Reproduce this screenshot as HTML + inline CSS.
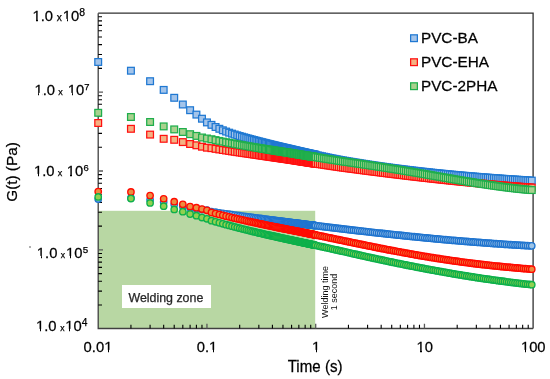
<!DOCTYPE html>
<html><head><meta charset="utf-8"><style>
html,body{margin:0;padding:0;background:#fff;width:550px;height:379px;overflow:hidden;}
body{position:relative;font-family:"Liberation Sans",sans-serif;color:#000;}
.t{position:absolute;white-space:nowrap;line-height:1;}
#tx{position:absolute;left:0;top:0;width:550px;height:379px;will-change:transform;}
.t{-webkit-text-stroke:0.25px currentColor;} .o{position:relative;} .o::before,.o::after{content:"";position:absolute;top:0.76em;height:0.19em;background:#fff;} .o::before{left:0.045em;width:0.207em;} .o::after{left:0.343em;width:0.2em;}

</style></head><body>
<svg width="550" height="379" viewBox="0 0 550 379" style="position:absolute;left:0;top:0"><rect x="98.2" y="210.8" width="217.0" height="117.69999999999999" fill="#b8d7a3"/><path d="M98.2 13.2H533.1V328.5" fill="none" stroke="#303030" stroke-width="1.3"/><path d="M98.2 13.2V328.5H533.1" fill="none" stroke="#404040" stroke-width="1.3"/><path d="M98.2 305.05h3.8M98.2 291.16h3.8M98.2 281.30h3.8M98.2 273.65h3.8M98.2 267.40h3.8M98.2 262.12h3.8M98.2 257.55h3.8M98.2 253.51h3.8M98.2 226.15h3.8M98.2 212.26h3.8M98.2 202.40h3.8M98.2 194.75h3.8M98.2 188.50h3.8M98.2 183.22h3.8M98.2 178.65h3.8M98.2 174.61h3.8M98.2 147.25h3.8M98.2 133.36h3.8M98.2 123.50h3.8M98.2 115.85h3.8M98.2 109.60h3.8M98.2 104.32h3.8M98.2 99.75h3.8M98.2 95.71h3.8M98.2 68.35h3.8M98.2 54.46h3.8M98.2 44.60h3.8M98.2 36.95h3.8M98.2 30.70h3.8M98.2 25.42h3.8M98.2 20.85h3.8M98.2 16.81h3.8M130.94 328.5v-3.8M150.09 328.5v-3.8M163.67 328.5v-3.8M174.21 328.5v-3.8M182.82 328.5v-3.8M190.10 328.5v-3.8M196.41 328.5v-3.8M201.97 328.5v-3.8M239.69 328.5v-3.8M258.84 328.5v-3.8M272.42 328.5v-3.8M282.96 328.5v-3.8M291.57 328.5v-3.8M298.85 328.5v-3.8M305.16 328.5v-3.8M310.72 328.5v-3.8M348.44 328.5v-3.8M367.59 328.5v-3.8M381.17 328.5v-3.8M391.71 328.5v-3.8M400.32 328.5v-3.8M407.60 328.5v-3.8M413.91 328.5v-3.8M419.47 328.5v-3.8M457.19 328.5v-3.8M476.34 328.5v-3.8M489.92 328.5v-3.8M500.46 328.5v-3.8M509.07 328.5v-3.8M516.35 328.5v-3.8M522.66 328.5v-3.8M528.22 328.5v-3.8" stroke="#000" stroke-width="1.1" fill="none"/><path d="M98.2 249.90h4.8M98.2 171.00h4.8M98.2 92.10h4.8M206.95 328.5v-4.8M315.70 328.5v-4.8M424.45 328.5v-4.8" stroke="#595959" stroke-width="1.3" fill="none"/><g fill="#a3c4ea" stroke="#1f78d2" stroke-width="1.25"><rect x="94.83" y="58.62" width="6.75" height="6.75"/><rect x="127.56" y="67.33" width="6.75" height="6.75"/><rect x="146.71" y="77.83" width="6.75" height="6.75"/><rect x="160.30" y="86.53" width="6.75" height="6.75"/><rect x="170.84" y="94.42" width="6.75" height="6.75"/><rect x="179.45" y="101.12" width="6.75" height="6.75"/><rect x="186.73" y="106.83" width="6.75" height="6.75"/><rect x="193.04" y="111.22" width="6.75" height="6.75"/><rect x="198.60" y="115.33" width="6.75" height="6.75"/><rect x="203.57" y="119.03" width="6.75" height="6.75"/><rect x="208.08" y="121.48" width="6.75" height="6.75"/><rect x="212.19" y="123.62" width="6.75" height="6.75"/><rect x="215.97" y="125.40" width="6.75" height="6.75"/><rect x="219.47" y="126.90" width="6.75" height="6.75"/><rect x="222.72" y="128.18" width="6.75" height="6.75"/><rect x="225.77" y="129.29" width="6.75" height="6.75"/><rect x="228.64" y="130.27" width="6.75" height="6.75"/><rect x="231.34" y="131.15" width="6.75" height="6.75"/><rect x="233.89" y="131.94" width="6.75" height="6.75"/><rect x="236.31" y="132.67" width="6.75" height="6.75"/><rect x="238.62" y="133.34" width="6.75" height="6.75"/><rect x="240.81" y="133.97" width="6.75" height="6.75"/><rect x="242.91" y="134.56" width="6.75" height="6.75"/><rect x="244.92" y="135.12" width="6.75" height="6.75"/><rect x="246.85" y="135.66" width="6.75" height="6.75"/><rect x="248.70" y="136.17" width="6.75" height="6.75"/><rect x="250.49" y="136.65" width="6.75" height="6.75"/><rect x="252.20" y="137.12" width="6.75" height="6.75"/><rect x="253.86" y="137.56" width="6.75" height="6.75"/><rect x="255.46" y="137.99" width="6.75" height="6.75"/><rect x="257.01" y="138.40" width="6.75" height="6.75"/><rect x="258.51" y="138.79" width="6.75" height="6.75"/><rect x="259.96" y="139.17" width="6.75" height="6.75"/><rect x="261.37" y="139.53" width="6.75" height="6.75"/><rect x="262.74" y="139.89" width="6.75" height="6.75"/><rect x="264.07" y="140.23" width="6.75" height="6.75"/><rect x="265.37" y="140.55" width="6.75" height="6.75"/><rect x="266.63" y="140.87" width="6.75" height="6.75"/><rect x="267.85" y="141.18" width="6.75" height="6.75"/><rect x="269.05" y="141.48" width="6.75" height="6.75"/><rect x="270.22" y="141.77" width="6.75" height="6.75"/><rect x="271.35" y="142.05" width="6.75" height="6.75"/><rect x="272.46" y="142.32" width="6.75" height="6.75"/><rect x="273.55" y="142.59" width="6.75" height="6.75"/><rect x="274.61" y="142.85" width="6.75" height="6.75"/><rect x="275.65" y="143.10" width="6.75" height="6.75"/><rect x="276.67" y="143.34" width="6.75" height="6.75"/><rect x="277.66" y="143.58" width="6.75" height="6.75"/><rect x="278.63" y="143.81" width="6.75" height="6.75"/><rect x="279.59" y="144.04" width="6.75" height="6.75"/><rect x="280.52" y="144.26" width="6.75" height="6.75"/><rect x="281.44" y="144.48" width="6.75" height="6.75"/><rect x="282.34" y="144.69" width="6.75" height="6.75"/><rect x="283.22" y="144.89" width="6.75" height="6.75"/><rect x="284.09" y="145.09" width="6.75" height="6.75"/><rect x="284.94" y="145.29" width="6.75" height="6.75"/><rect x="285.78" y="145.48" width="6.75" height="6.75"/><rect x="286.60" y="145.67" width="6.75" height="6.75"/><rect x="287.41" y="145.87" width="6.75" height="6.75"/><rect x="288.20" y="146.06" width="6.75" height="6.75"/><rect x="288.98" y="146.25" width="6.75" height="6.75"/><rect x="289.75" y="146.43" width="6.75" height="6.75"/><rect x="290.50" y="146.61" width="6.75" height="6.75"/><rect x="291.25" y="146.79" width="6.75" height="6.75"/><rect x="291.98" y="146.96" width="6.75" height="6.75"/><rect x="292.70" y="147.13" width="6.75" height="6.75"/><rect x="293.41" y="147.30" width="6.75" height="6.75"/><rect x="294.11" y="147.46" width="6.75" height="6.75"/><rect x="294.80" y="147.63" width="6.75" height="6.75"/><rect x="295.48" y="147.78" width="6.75" height="6.75"/><rect x="296.15" y="147.94" width="6.75" height="6.75"/><rect x="296.81" y="148.09" width="6.75" height="6.75"/><rect x="297.46" y="148.24" width="6.75" height="6.75"/><rect x="298.10" y="148.39" width="6.75" height="6.75"/><rect x="298.74" y="148.54" width="6.75" height="6.75"/><rect x="299.36" y="148.68" width="6.75" height="6.75"/><rect x="299.98" y="148.82" width="6.75" height="6.75"/><rect x="300.59" y="148.96" width="6.75" height="6.75"/><rect x="301.19" y="149.10" width="6.75" height="6.75"/><rect x="301.79" y="149.23" width="6.75" height="6.75"/><rect x="302.37" y="149.37" width="6.75" height="6.75"/><rect x="302.95" y="149.50" width="6.75" height="6.75"/><rect x="303.52" y="149.62" width="6.75" height="6.75"/><rect x="304.09" y="149.75" width="6.75" height="6.75"/><rect x="304.65" y="149.88" width="6.75" height="6.75"/><rect x="305.20" y="150.00" width="6.75" height="6.75"/><rect x="305.75" y="150.12" width="6.75" height="6.75"/><rect x="306.29" y="150.24" width="6.75" height="6.75"/><rect x="306.82" y="150.36" width="6.75" height="6.75"/><rect x="307.35" y="150.48" width="6.75" height="6.75"/><rect x="307.87" y="150.59" width="6.75" height="6.75"/><rect x="308.39" y="150.70" width="6.75" height="6.75"/><rect x="308.90" y="150.82" width="6.75" height="6.75"/><rect x="309.40" y="150.93" width="6.75" height="6.75"/><rect x="309.90" y="151.04" width="6.75" height="6.75"/><rect x="310.40" y="151.14" width="6.75" height="6.75"/><rect x="310.89" y="151.25" width="6.75" height="6.75"/><rect x="311.37" y="151.35" width="6.75" height="6.75"/><rect x="311.85" y="151.46" width="6.75" height="6.75"/><rect x="312.32" y="151.56" width="6.75" height="6.75"/><rect x="314.42" y="152.01" width="6.75" height="6.75"/><rect x="316.52" y="152.45" width="6.75" height="6.75"/><rect x="318.62" y="152.89" width="6.75" height="6.75"/><rect x="320.72" y="153.33" width="6.75" height="6.75"/><rect x="322.81" y="153.76" width="6.75" height="6.75"/><rect x="324.91" y="154.19" width="6.75" height="6.75"/><rect x="327.01" y="154.61" width="6.75" height="6.75"/><rect x="329.11" y="155.03" width="6.75" height="6.75"/><rect x="331.20" y="155.45" width="6.75" height="6.75"/><rect x="333.30" y="155.86" width="6.75" height="6.75"/><rect x="335.40" y="156.26" width="6.75" height="6.75"/><rect x="337.50" y="156.65" width="6.75" height="6.75"/><rect x="339.59" y="157.02" width="6.75" height="6.75"/><rect x="341.69" y="157.38" width="6.75" height="6.75"/><rect x="343.79" y="157.74" width="6.75" height="6.75"/><rect x="345.89" y="158.10" width="6.75" height="6.75"/><rect x="347.99" y="158.45" width="6.75" height="6.75"/><rect x="350.08" y="158.80" width="6.75" height="6.75"/><rect x="352.18" y="159.14" width="6.75" height="6.75"/><rect x="354.28" y="159.48" width="6.75" height="6.75"/><rect x="356.38" y="159.82" width="6.75" height="6.75"/><rect x="358.47" y="160.15" width="6.75" height="6.75"/><rect x="360.57" y="160.48" width="6.75" height="6.75"/><rect x="362.67" y="160.81" width="6.75" height="6.75"/><rect x="364.77" y="161.13" width="6.75" height="6.75"/><rect x="366.86" y="161.45" width="6.75" height="6.75"/><rect x="368.96" y="161.76" width="6.75" height="6.75"/><rect x="371.06" y="162.07" width="6.75" height="6.75"/><rect x="373.16" y="162.38" width="6.75" height="6.75"/><rect x="375.26" y="162.68" width="6.75" height="6.75"/><rect x="377.35" y="162.98" width="6.75" height="6.75"/><rect x="379.45" y="163.27" width="6.75" height="6.75"/><rect x="381.55" y="163.57" width="6.75" height="6.75"/><rect x="383.65" y="163.86" width="6.75" height="6.75"/><rect x="385.74" y="164.14" width="6.75" height="6.75"/><rect x="387.84" y="164.42" width="6.75" height="6.75"/><rect x="389.94" y="164.70" width="6.75" height="6.75"/><rect x="392.04" y="164.98" width="6.75" height="6.75"/><rect x="394.13" y="165.25" width="6.75" height="6.75"/><rect x="396.23" y="165.52" width="6.75" height="6.75"/><rect x="398.33" y="165.78" width="6.75" height="6.75"/><rect x="400.43" y="166.05" width="6.75" height="6.75"/><rect x="402.53" y="166.30" width="6.75" height="6.75"/><rect x="404.62" y="166.56" width="6.75" height="6.75"/><rect x="406.72" y="166.81" width="6.75" height="6.75"/><rect x="408.82" y="167.06" width="6.75" height="6.75"/><rect x="410.92" y="167.31" width="6.75" height="6.75"/><rect x="413.01" y="167.55" width="6.75" height="6.75"/><rect x="415.11" y="167.79" width="6.75" height="6.75"/><rect x="417.21" y="168.03" width="6.75" height="6.75"/><rect x="419.31" y="168.27" width="6.75" height="6.75"/><rect x="421.40" y="168.50" width="6.75" height="6.75"/><rect x="423.50" y="168.73" width="6.75" height="6.75"/><rect x="425.60" y="168.95" width="6.75" height="6.75"/><rect x="427.70" y="169.18" width="6.75" height="6.75"/><rect x="429.80" y="169.40" width="6.75" height="6.75"/><rect x="431.89" y="169.62" width="6.75" height="6.75"/><rect x="433.99" y="169.83" width="6.75" height="6.75"/><rect x="436.09" y="170.04" width="6.75" height="6.75"/><rect x="438.19" y="170.25" width="6.75" height="6.75"/><rect x="440.28" y="170.46" width="6.75" height="6.75"/><rect x="442.38" y="170.67" width="6.75" height="6.75"/><rect x="444.48" y="170.87" width="6.75" height="6.75"/><rect x="446.58" y="171.07" width="6.75" height="6.75"/><rect x="448.67" y="171.27" width="6.75" height="6.75"/><rect x="450.77" y="171.46" width="6.75" height="6.75"/><rect x="452.87" y="171.65" width="6.75" height="6.75"/><rect x="454.97" y="171.84" width="6.75" height="6.75"/><rect x="457.07" y="172.03" width="6.75" height="6.75"/><rect x="459.16" y="172.22" width="6.75" height="6.75"/><rect x="461.26" y="172.40" width="6.75" height="6.75"/><rect x="463.36" y="172.58" width="6.75" height="6.75"/><rect x="465.46" y="172.76" width="6.75" height="6.75"/><rect x="467.55" y="172.94" width="6.75" height="6.75"/><rect x="469.65" y="173.11" width="6.75" height="6.75"/><rect x="471.75" y="173.28" width="6.75" height="6.75"/><rect x="473.85" y="173.45" width="6.75" height="6.75"/><rect x="475.94" y="173.62" width="6.75" height="6.75"/><rect x="478.04" y="173.79" width="6.75" height="6.75"/><rect x="480.14" y="173.95" width="6.75" height="6.75"/><rect x="482.24" y="174.11" width="6.75" height="6.75"/><rect x="484.34" y="174.27" width="6.75" height="6.75"/><rect x="486.43" y="174.43" width="6.75" height="6.75"/><rect x="488.53" y="174.59" width="6.75" height="6.75"/><rect x="490.63" y="174.74" width="6.75" height="6.75"/><rect x="492.73" y="174.90" width="6.75" height="6.75"/><rect x="494.82" y="175.05" width="6.75" height="6.75"/><rect x="496.92" y="175.20" width="6.75" height="6.75"/><rect x="499.02" y="175.34" width="6.75" height="6.75"/><rect x="501.12" y="175.49" width="6.75" height="6.75"/><rect x="503.21" y="175.63" width="6.75" height="6.75"/><rect x="505.31" y="175.78" width="6.75" height="6.75"/><rect x="507.41" y="175.92" width="6.75" height="6.75"/><rect x="509.51" y="176.06" width="6.75" height="6.75"/><rect x="511.60" y="176.19" width="6.75" height="6.75"/><rect x="513.70" y="176.33" width="6.75" height="6.75"/><rect x="515.80" y="176.47" width="6.75" height="6.75"/><rect x="517.90" y="176.60" width="6.75" height="6.75"/><rect x="520.00" y="176.73" width="6.75" height="6.75"/><rect x="522.09" y="176.86" width="6.75" height="6.75"/><rect x="524.19" y="176.99" width="6.75" height="6.75"/><rect x="526.29" y="177.12" width="6.75" height="6.75"/><rect x="528.39" y="177.25" width="6.75" height="6.75"/></g><g fill="#f4b183" stroke="#ff1010" stroke-width="1.25"><rect x="94.83" y="119.62" width="6.75" height="6.75"/><rect x="127.56" y="125.43" width="6.75" height="6.75"/><rect x="146.71" y="131.22" width="6.75" height="6.75"/><rect x="160.30" y="135.43" width="6.75" height="6.75"/><rect x="170.84" y="136.43" width="6.75" height="6.75"/><rect x="179.45" y="138.72" width="6.75" height="6.75"/><rect x="186.73" y="140.62" width="6.75" height="6.75"/><rect x="193.04" y="141.93" width="6.75" height="6.75"/><rect x="198.60" y="143.32" width="6.75" height="6.75"/><rect x="203.57" y="144.32" width="6.75" height="6.75"/><rect x="208.08" y="144.78" width="6.75" height="6.75"/><rect x="212.19" y="145.47" width="6.75" height="6.75"/><rect x="215.97" y="146.08" width="6.75" height="6.75"/><rect x="219.47" y="146.63" width="6.75" height="6.75"/><rect x="222.72" y="147.13" width="6.75" height="6.75"/><rect x="225.77" y="147.58" width="6.75" height="6.75"/><rect x="228.64" y="148.01" width="6.75" height="6.75"/><rect x="231.34" y="148.40" width="6.75" height="6.75"/><rect x="233.89" y="148.77" width="6.75" height="6.75"/><rect x="236.31" y="149.11" width="6.75" height="6.75"/><rect x="238.62" y="149.44" width="6.75" height="6.75"/><rect x="240.81" y="149.76" width="6.75" height="6.75"/><rect x="242.91" y="150.05" width="6.75" height="6.75"/><rect x="244.92" y="150.34" width="6.75" height="6.75"/><rect x="246.85" y="150.61" width="6.75" height="6.75"/><rect x="248.70" y="150.88" width="6.75" height="6.75"/><rect x="250.49" y="151.13" width="6.75" height="6.75"/><rect x="252.20" y="151.37" width="6.75" height="6.75"/><rect x="253.86" y="151.61" width="6.75" height="6.75"/><rect x="255.46" y="151.84" width="6.75" height="6.75"/><rect x="257.01" y="152.06" width="6.75" height="6.75"/><rect x="258.51" y="152.27" width="6.75" height="6.75"/><rect x="259.96" y="152.48" width="6.75" height="6.75"/><rect x="261.37" y="152.68" width="6.75" height="6.75"/><rect x="262.74" y="152.87" width="6.75" height="6.75"/><rect x="264.07" y="153.06" width="6.75" height="6.75"/><rect x="265.37" y="153.24" width="6.75" height="6.75"/><rect x="266.63" y="153.42" width="6.75" height="6.75"/><rect x="267.85" y="153.60" width="6.75" height="6.75"/><rect x="269.05" y="153.77" width="6.75" height="6.75"/><rect x="270.22" y="153.93" width="6.75" height="6.75"/><rect x="271.35" y="154.09" width="6.75" height="6.75"/><rect x="272.46" y="154.25" width="6.75" height="6.75"/><rect x="273.55" y="154.40" width="6.75" height="6.75"/><rect x="274.61" y="154.55" width="6.75" height="6.75"/><rect x="275.65" y="154.70" width="6.75" height="6.75"/><rect x="276.67" y="154.84" width="6.75" height="6.75"/><rect x="277.66" y="154.98" width="6.75" height="6.75"/><rect x="278.63" y="155.12" width="6.75" height="6.75"/><rect x="279.59" y="155.26" width="6.75" height="6.75"/><rect x="280.52" y="155.39" width="6.75" height="6.75"/><rect x="281.44" y="155.52" width="6.75" height="6.75"/><rect x="282.34" y="155.64" width="6.75" height="6.75"/><rect x="283.22" y="155.77" width="6.75" height="6.75"/><rect x="284.09" y="155.89" width="6.75" height="6.75"/><rect x="284.94" y="156.01" width="6.75" height="6.75"/><rect x="285.78" y="156.13" width="6.75" height="6.75"/><rect x="286.60" y="156.24" width="6.75" height="6.75"/><rect x="287.41" y="156.37" width="6.75" height="6.75"/><rect x="288.20" y="156.49" width="6.75" height="6.75"/><rect x="288.98" y="156.61" width="6.75" height="6.75"/><rect x="289.75" y="156.73" width="6.75" height="6.75"/><rect x="290.50" y="156.85" width="6.75" height="6.75"/><rect x="291.25" y="156.96" width="6.75" height="6.75"/><rect x="291.98" y="157.07" width="6.75" height="6.75"/><rect x="292.70" y="157.18" width="6.75" height="6.75"/><rect x="293.41" y="157.29" width="6.75" height="6.75"/><rect x="294.11" y="157.40" width="6.75" height="6.75"/><rect x="294.80" y="157.51" width="6.75" height="6.75"/><rect x="295.48" y="157.61" width="6.75" height="6.75"/><rect x="296.15" y="157.72" width="6.75" height="6.75"/><rect x="296.81" y="157.82" width="6.75" height="6.75"/><rect x="297.46" y="157.92" width="6.75" height="6.75"/><rect x="298.10" y="158.02" width="6.75" height="6.75"/><rect x="298.74" y="158.11" width="6.75" height="6.75"/><rect x="299.36" y="158.21" width="6.75" height="6.75"/><rect x="299.98" y="158.30" width="6.75" height="6.75"/><rect x="300.59" y="158.40" width="6.75" height="6.75"/><rect x="301.19" y="158.49" width="6.75" height="6.75"/><rect x="301.79" y="158.58" width="6.75" height="6.75"/><rect x="302.37" y="158.67" width="6.75" height="6.75"/><rect x="302.95" y="158.76" width="6.75" height="6.75"/><rect x="303.52" y="158.85" width="6.75" height="6.75"/><rect x="304.09" y="158.93" width="6.75" height="6.75"/><rect x="304.65" y="159.02" width="6.75" height="6.75"/><rect x="305.20" y="159.10" width="6.75" height="6.75"/><rect x="305.75" y="159.19" width="6.75" height="6.75"/><rect x="306.29" y="159.27" width="6.75" height="6.75"/><rect x="306.82" y="159.35" width="6.75" height="6.75"/><rect x="307.35" y="159.43" width="6.75" height="6.75"/><rect x="307.87" y="159.51" width="6.75" height="6.75"/><rect x="308.39" y="159.59" width="6.75" height="6.75"/><rect x="308.90" y="159.67" width="6.75" height="6.75"/><rect x="309.40" y="159.74" width="6.75" height="6.75"/><rect x="309.90" y="159.82" width="6.75" height="6.75"/><rect x="310.40" y="159.90" width="6.75" height="6.75"/><rect x="310.89" y="159.97" width="6.75" height="6.75"/><rect x="311.37" y="160.04" width="6.75" height="6.75"/><rect x="311.85" y="160.12" width="6.75" height="6.75"/><rect x="312.32" y="160.19" width="6.75" height="6.75"/><rect x="314.42" y="160.51" width="6.75" height="6.75"/><rect x="316.52" y="160.82" width="6.75" height="6.75"/><rect x="318.62" y="161.14" width="6.75" height="6.75"/><rect x="320.72" y="161.46" width="6.75" height="6.75"/><rect x="322.81" y="161.77" width="6.75" height="6.75"/><rect x="324.91" y="162.09" width="6.75" height="6.75"/><rect x="327.01" y="162.40" width="6.75" height="6.75"/><rect x="329.11" y="162.72" width="6.75" height="6.75"/><rect x="331.20" y="163.03" width="6.75" height="6.75"/><rect x="333.30" y="163.34" width="6.75" height="6.75"/><rect x="335.40" y="163.66" width="6.75" height="6.75"/><rect x="337.50" y="163.96" width="6.75" height="6.75"/><rect x="339.59" y="164.24" width="6.75" height="6.75"/><rect x="341.69" y="164.52" width="6.75" height="6.75"/><rect x="343.79" y="164.80" width="6.75" height="6.75"/><rect x="345.89" y="165.08" width="6.75" height="6.75"/><rect x="347.99" y="165.35" width="6.75" height="6.75"/><rect x="350.08" y="165.63" width="6.75" height="6.75"/><rect x="352.18" y="165.91" width="6.75" height="6.75"/><rect x="354.28" y="166.18" width="6.75" height="6.75"/><rect x="356.38" y="166.46" width="6.75" height="6.75"/><rect x="358.47" y="166.73" width="6.75" height="6.75"/><rect x="360.57" y="167.00" width="6.75" height="6.75"/><rect x="362.67" y="167.27" width="6.75" height="6.75"/><rect x="364.77" y="167.54" width="6.75" height="6.75"/><rect x="366.86" y="167.81" width="6.75" height="6.75"/><rect x="368.96" y="168.08" width="6.75" height="6.75"/><rect x="371.06" y="168.35" width="6.75" height="6.75"/><rect x="373.16" y="168.62" width="6.75" height="6.75"/><rect x="375.26" y="168.88" width="6.75" height="6.75"/><rect x="377.35" y="169.14" width="6.75" height="6.75"/><rect x="379.45" y="169.41" width="6.75" height="6.75"/><rect x="381.55" y="169.67" width="6.75" height="6.75"/><rect x="383.65" y="169.93" width="6.75" height="6.75"/><rect x="385.74" y="170.19" width="6.75" height="6.75"/><rect x="387.84" y="170.45" width="6.75" height="6.75"/><rect x="389.94" y="170.71" width="6.75" height="6.75"/><rect x="392.04" y="170.96" width="6.75" height="6.75"/><rect x="394.13" y="171.22" width="6.75" height="6.75"/><rect x="396.23" y="171.47" width="6.75" height="6.75"/><rect x="398.33" y="171.72" width="6.75" height="6.75"/><rect x="400.43" y="171.97" width="6.75" height="6.75"/><rect x="402.53" y="172.22" width="6.75" height="6.75"/><rect x="404.62" y="172.47" width="6.75" height="6.75"/><rect x="406.72" y="172.72" width="6.75" height="6.75"/><rect x="408.82" y="172.97" width="6.75" height="6.75"/><rect x="410.92" y="173.21" width="6.75" height="6.75"/><rect x="413.01" y="173.45" width="6.75" height="6.75"/><rect x="415.11" y="173.70" width="6.75" height="6.75"/><rect x="417.21" y="173.94" width="6.75" height="6.75"/><rect x="419.31" y="174.18" width="6.75" height="6.75"/><rect x="421.40" y="174.41" width="6.75" height="6.75"/><rect x="423.50" y="174.65" width="6.75" height="6.75"/><rect x="425.60" y="174.88" width="6.75" height="6.75"/><rect x="427.70" y="175.12" width="6.75" height="6.75"/><rect x="429.80" y="175.35" width="6.75" height="6.75"/><rect x="431.89" y="175.58" width="6.75" height="6.75"/><rect x="433.99" y="175.81" width="6.75" height="6.75"/><rect x="436.09" y="176.03" width="6.75" height="6.75"/><rect x="438.19" y="176.26" width="6.75" height="6.75"/><rect x="440.28" y="176.48" width="6.75" height="6.75"/><rect x="442.38" y="176.70" width="6.75" height="6.75"/><rect x="444.48" y="176.92" width="6.75" height="6.75"/><rect x="446.58" y="177.14" width="6.75" height="6.75"/><rect x="448.67" y="177.36" width="6.75" height="6.75"/><rect x="450.77" y="177.58" width="6.75" height="6.75"/><rect x="452.87" y="177.79" width="6.75" height="6.75"/><rect x="454.97" y="178.00" width="6.75" height="6.75"/><rect x="457.07" y="178.21" width="6.75" height="6.75"/><rect x="459.16" y="178.42" width="6.75" height="6.75"/><rect x="461.26" y="178.63" width="6.75" height="6.75"/><rect x="463.36" y="178.83" width="6.75" height="6.75"/><rect x="465.46" y="179.03" width="6.75" height="6.75"/><rect x="467.55" y="179.23" width="6.75" height="6.75"/><rect x="469.65" y="179.43" width="6.75" height="6.75"/><rect x="471.75" y="179.63" width="6.75" height="6.75"/><rect x="473.85" y="179.83" width="6.75" height="6.75"/><rect x="475.94" y="180.02" width="6.75" height="6.75"/><rect x="478.04" y="180.21" width="6.75" height="6.75"/><rect x="480.14" y="180.40" width="6.75" height="6.75"/><rect x="482.24" y="180.59" width="6.75" height="6.75"/><rect x="484.34" y="180.78" width="6.75" height="6.75"/><rect x="486.43" y="180.96" width="6.75" height="6.75"/><rect x="488.53" y="181.14" width="6.75" height="6.75"/><rect x="490.63" y="181.32" width="6.75" height="6.75"/><rect x="492.73" y="181.50" width="6.75" height="6.75"/><rect x="494.82" y="181.67" width="6.75" height="6.75"/><rect x="496.92" y="181.85" width="6.75" height="6.75"/><rect x="499.02" y="182.02" width="6.75" height="6.75"/><rect x="501.12" y="182.19" width="6.75" height="6.75"/><rect x="503.21" y="182.36" width="6.75" height="6.75"/><rect x="505.31" y="182.52" width="6.75" height="6.75"/><rect x="507.41" y="182.68" width="6.75" height="6.75"/><rect x="509.51" y="182.84" width="6.75" height="6.75"/><rect x="511.60" y="183.00" width="6.75" height="6.75"/><rect x="513.70" y="183.16" width="6.75" height="6.75"/><rect x="515.80" y="183.31" width="6.75" height="6.75"/><rect x="517.90" y="183.47" width="6.75" height="6.75"/><rect x="520.00" y="183.61" width="6.75" height="6.75"/><rect x="522.09" y="183.76" width="6.75" height="6.75"/><rect x="524.19" y="183.91" width="6.75" height="6.75"/><rect x="526.29" y="184.05" width="6.75" height="6.75"/><rect x="528.39" y="184.19" width="6.75" height="6.75"/></g><g fill="#a9d18e" stroke="#1fae4c" stroke-width="1.25"><rect x="94.83" y="109.42" width="6.75" height="6.75"/><rect x="127.56" y="113.62" width="6.75" height="6.75"/><rect x="146.71" y="118.62" width="6.75" height="6.75"/><rect x="160.30" y="123.03" width="6.75" height="6.75"/><rect x="170.84" y="126.03" width="6.75" height="6.75"/><rect x="179.45" y="128.62" width="6.75" height="6.75"/><rect x="186.73" y="130.82" width="6.75" height="6.75"/><rect x="193.04" y="132.53" width="6.75" height="6.75"/><rect x="198.60" y="134.12" width="6.75" height="6.75"/><rect x="203.57" y="135.12" width="6.75" height="6.75"/><rect x="208.08" y="135.85" width="6.75" height="6.75"/><rect x="212.19" y="136.73" width="6.75" height="6.75"/><rect x="215.97" y="137.52" width="6.75" height="6.75"/><rect x="219.47" y="138.22" width="6.75" height="6.75"/><rect x="222.72" y="138.86" width="6.75" height="6.75"/><rect x="225.77" y="139.45" width="6.75" height="6.75"/><rect x="228.64" y="139.98" width="6.75" height="6.75"/><rect x="231.34" y="140.48" width="6.75" height="6.75"/><rect x="233.89" y="140.95" width="6.75" height="6.75"/><rect x="236.31" y="141.38" width="6.75" height="6.75"/><rect x="238.62" y="141.79" width="6.75" height="6.75"/><rect x="240.81" y="142.17" width="6.75" height="6.75"/><rect x="242.91" y="142.54" width="6.75" height="6.75"/><rect x="244.92" y="142.89" width="6.75" height="6.75"/><rect x="246.85" y="143.22" width="6.75" height="6.75"/><rect x="248.70" y="143.53" width="6.75" height="6.75"/><rect x="250.49" y="143.83" width="6.75" height="6.75"/><rect x="252.20" y="144.12" width="6.75" height="6.75"/><rect x="253.86" y="144.40" width="6.75" height="6.75"/><rect x="255.46" y="144.66" width="6.75" height="6.75"/><rect x="257.01" y="144.92" width="6.75" height="6.75"/><rect x="258.51" y="145.16" width="6.75" height="6.75"/><rect x="259.96" y="145.40" width="6.75" height="6.75"/><rect x="261.37" y="145.63" width="6.75" height="6.75"/><rect x="262.74" y="145.85" width="6.75" height="6.75"/><rect x="264.07" y="146.07" width="6.75" height="6.75"/><rect x="265.37" y="146.27" width="6.75" height="6.75"/><rect x="266.63" y="146.48" width="6.75" height="6.75"/><rect x="267.85" y="146.67" width="6.75" height="6.75"/><rect x="269.05" y="146.86" width="6.75" height="6.75"/><rect x="270.22" y="147.04" width="6.75" height="6.75"/><rect x="271.35" y="147.22" width="6.75" height="6.75"/><rect x="272.46" y="147.40" width="6.75" height="6.75"/><rect x="273.55" y="147.57" width="6.75" height="6.75"/><rect x="274.61" y="147.73" width="6.75" height="6.75"/><rect x="275.65" y="147.90" width="6.75" height="6.75"/><rect x="276.67" y="148.05" width="6.75" height="6.75"/><rect x="277.66" y="148.21" width="6.75" height="6.75"/><rect x="278.63" y="148.36" width="6.75" height="6.75"/><rect x="279.59" y="148.50" width="6.75" height="6.75"/><rect x="280.52" y="148.65" width="6.75" height="6.75"/><rect x="281.44" y="148.79" width="6.75" height="6.75"/><rect x="282.34" y="148.93" width="6.75" height="6.75"/><rect x="283.22" y="149.06" width="6.75" height="6.75"/><rect x="284.09" y="149.19" width="6.75" height="6.75"/><rect x="284.94" y="149.32" width="6.75" height="6.75"/><rect x="285.78" y="149.45" width="6.75" height="6.75"/><rect x="286.60" y="149.57" width="6.75" height="6.75"/><rect x="287.41" y="149.70" width="6.75" height="6.75"/><rect x="288.20" y="149.84" width="6.75" height="6.75"/><rect x="288.98" y="149.96" width="6.75" height="6.75"/><rect x="289.75" y="150.09" width="6.75" height="6.75"/><rect x="290.50" y="150.21" width="6.75" height="6.75"/><rect x="291.25" y="150.34" width="6.75" height="6.75"/><rect x="291.98" y="150.46" width="6.75" height="6.75"/><rect x="292.70" y="150.57" width="6.75" height="6.75"/><rect x="293.41" y="150.69" width="6.75" height="6.75"/><rect x="294.11" y="150.80" width="6.75" height="6.75"/><rect x="294.80" y="150.92" width="6.75" height="6.75"/><rect x="295.48" y="151.03" width="6.75" height="6.75"/><rect x="296.15" y="151.14" width="6.75" height="6.75"/><rect x="296.81" y="151.24" width="6.75" height="6.75"/><rect x="297.46" y="151.35" width="6.75" height="6.75"/><rect x="298.10" y="151.45" width="6.75" height="6.75"/><rect x="298.74" y="151.55" width="6.75" height="6.75"/><rect x="299.36" y="151.66" width="6.75" height="6.75"/><rect x="299.98" y="151.76" width="6.75" height="6.75"/><rect x="300.59" y="151.85" width="6.75" height="6.75"/><rect x="301.19" y="151.95" width="6.75" height="6.75"/><rect x="301.79" y="152.05" width="6.75" height="6.75"/><rect x="302.37" y="152.14" width="6.75" height="6.75"/><rect x="302.95" y="152.23" width="6.75" height="6.75"/><rect x="303.52" y="152.33" width="6.75" height="6.75"/><rect x="304.09" y="152.42" width="6.75" height="6.75"/><rect x="304.65" y="152.51" width="6.75" height="6.75"/><rect x="305.20" y="152.59" width="6.75" height="6.75"/><rect x="305.75" y="152.68" width="6.75" height="6.75"/><rect x="306.29" y="152.77" width="6.75" height="6.75"/><rect x="306.82" y="152.85" width="6.75" height="6.75"/><rect x="307.35" y="152.94" width="6.75" height="6.75"/><rect x="307.87" y="153.02" width="6.75" height="6.75"/><rect x="308.39" y="153.10" width="6.75" height="6.75"/><rect x="308.90" y="153.19" width="6.75" height="6.75"/><rect x="309.40" y="153.27" width="6.75" height="6.75"/><rect x="309.90" y="153.35" width="6.75" height="6.75"/><rect x="310.40" y="153.43" width="6.75" height="6.75"/><rect x="310.89" y="153.50" width="6.75" height="6.75"/><rect x="311.37" y="153.58" width="6.75" height="6.75"/><rect x="311.85" y="153.66" width="6.75" height="6.75"/><rect x="312.32" y="153.73" width="6.75" height="6.75"/><rect x="314.42" y="154.07" width="6.75" height="6.75"/><rect x="316.52" y="154.40" width="6.75" height="6.75"/><rect x="318.62" y="154.73" width="6.75" height="6.75"/><rect x="320.72" y="155.06" width="6.75" height="6.75"/><rect x="322.81" y="155.40" width="6.75" height="6.75"/><rect x="324.91" y="155.73" width="6.75" height="6.75"/><rect x="327.01" y="156.06" width="6.75" height="6.75"/><rect x="329.11" y="156.39" width="6.75" height="6.75"/><rect x="331.20" y="156.72" width="6.75" height="6.75"/><rect x="333.30" y="157.05" width="6.75" height="6.75"/><rect x="335.40" y="157.38" width="6.75" height="6.75"/><rect x="337.50" y="157.70" width="6.75" height="6.75"/><rect x="339.59" y="158.01" width="6.75" height="6.75"/><rect x="341.69" y="158.31" width="6.75" height="6.75"/><rect x="343.79" y="158.61" width="6.75" height="6.75"/><rect x="345.89" y="158.92" width="6.75" height="6.75"/><rect x="347.99" y="159.22" width="6.75" height="6.75"/><rect x="350.08" y="159.52" width="6.75" height="6.75"/><rect x="352.18" y="159.83" width="6.75" height="6.75"/><rect x="354.28" y="160.14" width="6.75" height="6.75"/><rect x="356.38" y="160.44" width="6.75" height="6.75"/><rect x="358.47" y="160.75" width="6.75" height="6.75"/><rect x="360.57" y="161.06" width="6.75" height="6.75"/><rect x="362.67" y="161.37" width="6.75" height="6.75"/><rect x="364.77" y="161.68" width="6.75" height="6.75"/><rect x="366.86" y="162.00" width="6.75" height="6.75"/><rect x="368.96" y="162.31" width="6.75" height="6.75"/><rect x="371.06" y="162.62" width="6.75" height="6.75"/><rect x="373.16" y="162.94" width="6.75" height="6.75"/><rect x="375.26" y="163.26" width="6.75" height="6.75"/><rect x="377.35" y="163.58" width="6.75" height="6.75"/><rect x="379.45" y="163.90" width="6.75" height="6.75"/><rect x="381.55" y="164.22" width="6.75" height="6.75"/><rect x="383.65" y="164.55" width="6.75" height="6.75"/><rect x="385.74" y="164.87" width="6.75" height="6.75"/><rect x="387.84" y="165.20" width="6.75" height="6.75"/><rect x="389.94" y="165.53" width="6.75" height="6.75"/><rect x="392.04" y="165.86" width="6.75" height="6.75"/><rect x="394.13" y="166.20" width="6.75" height="6.75"/><rect x="396.23" y="166.54" width="6.75" height="6.75"/><rect x="398.33" y="166.87" width="6.75" height="6.75"/><rect x="400.43" y="167.22" width="6.75" height="6.75"/><rect x="402.53" y="167.56" width="6.75" height="6.75"/><rect x="404.62" y="167.91" width="6.75" height="6.75"/><rect x="406.72" y="168.25" width="6.75" height="6.75"/><rect x="408.82" y="168.61" width="6.75" height="6.75"/><rect x="410.92" y="168.96" width="6.75" height="6.75"/><rect x="413.01" y="169.32" width="6.75" height="6.75"/><rect x="415.11" y="169.67" width="6.75" height="6.75"/><rect x="417.21" y="170.03" width="6.75" height="6.75"/><rect x="419.31" y="170.40" width="6.75" height="6.75"/><rect x="421.40" y="170.76" width="6.75" height="6.75"/><rect x="423.50" y="171.12" width="6.75" height="6.75"/><rect x="425.60" y="171.49" width="6.75" height="6.75"/><rect x="427.70" y="171.85" width="6.75" height="6.75"/><rect x="429.80" y="172.22" width="6.75" height="6.75"/><rect x="431.89" y="172.59" width="6.75" height="6.75"/><rect x="433.99" y="172.96" width="6.75" height="6.75"/><rect x="436.09" y="173.32" width="6.75" height="6.75"/><rect x="438.19" y="173.69" width="6.75" height="6.75"/><rect x="440.28" y="174.06" width="6.75" height="6.75"/><rect x="442.38" y="174.43" width="6.75" height="6.75"/><rect x="444.48" y="174.79" width="6.75" height="6.75"/><rect x="446.58" y="175.16" width="6.75" height="6.75"/><rect x="448.67" y="175.52" width="6.75" height="6.75"/><rect x="450.77" y="175.89" width="6.75" height="6.75"/><rect x="452.87" y="176.25" width="6.75" height="6.75"/><rect x="454.97" y="176.61" width="6.75" height="6.75"/><rect x="457.07" y="176.97" width="6.75" height="6.75"/><rect x="459.16" y="177.32" width="6.75" height="6.75"/><rect x="461.26" y="177.68" width="6.75" height="6.75"/><rect x="463.36" y="178.03" width="6.75" height="6.75"/><rect x="465.46" y="178.38" width="6.75" height="6.75"/><rect x="467.55" y="178.72" width="6.75" height="6.75"/><rect x="469.65" y="179.07" width="6.75" height="6.75"/><rect x="471.75" y="179.41" width="6.75" height="6.75"/><rect x="473.85" y="179.74" width="6.75" height="6.75"/><rect x="475.94" y="180.08" width="6.75" height="6.75"/><rect x="478.04" y="180.41" width="6.75" height="6.75"/><rect x="480.14" y="180.73" width="6.75" height="6.75"/><rect x="482.24" y="181.05" width="6.75" height="6.75"/><rect x="484.34" y="181.37" width="6.75" height="6.75"/><rect x="486.43" y="181.68" width="6.75" height="6.75"/><rect x="488.53" y="181.99" width="6.75" height="6.75"/><rect x="490.63" y="182.29" width="6.75" height="6.75"/><rect x="492.73" y="182.59" width="6.75" height="6.75"/><rect x="494.82" y="182.88" width="6.75" height="6.75"/><rect x="496.92" y="183.17" width="6.75" height="6.75"/><rect x="499.02" y="183.45" width="6.75" height="6.75"/><rect x="501.12" y="183.73" width="6.75" height="6.75"/><rect x="503.21" y="184.00" width="6.75" height="6.75"/><rect x="505.31" y="184.26" width="6.75" height="6.75"/><rect x="507.41" y="184.52" width="6.75" height="6.75"/><rect x="509.51" y="184.77" width="6.75" height="6.75"/><rect x="511.60" y="185.01" width="6.75" height="6.75"/><rect x="513.70" y="185.25" width="6.75" height="6.75"/><rect x="515.80" y="185.48" width="6.75" height="6.75"/><rect x="517.90" y="185.70" width="6.75" height="6.75"/><rect x="520.00" y="185.91" width="6.75" height="6.75"/><rect x="522.09" y="186.12" width="6.75" height="6.75"/><rect x="524.19" y="186.32" width="6.75" height="6.75"/><rect x="526.29" y="186.51" width="6.75" height="6.75"/><rect x="528.39" y="186.69" width="6.75" height="6.75"/></g><g fill="#9dc3e6" stroke="#1f74cf" stroke-width="1.35"><circle cx="98.20" cy="199.00" r="3.2"/><circle cx="130.94" cy="197.90" r="3.2"/><circle cx="150.09" cy="199.80" r="3.2"/><circle cx="163.67" cy="202.00" r="3.2"/><circle cx="174.21" cy="204.50" r="3.2"/><circle cx="182.82" cy="206.50" r="3.2"/><circle cx="190.10" cy="207.80" r="3.2"/><circle cx="196.41" cy="208.80" r="3.2"/><circle cx="201.97" cy="209.50" r="3.2"/><circle cx="206.95" cy="210.00" r="3.2"/><circle cx="211.45" cy="211.61" r="3.2"/><circle cx="215.56" cy="212.24" r="3.2"/><circle cx="219.34" cy="212.81" r="3.2"/><circle cx="222.84" cy="213.33" r="3.2"/><circle cx="226.10" cy="213.80" r="3.2"/><circle cx="229.15" cy="214.24" r="3.2"/><circle cx="232.01" cy="214.64" r="3.2"/><circle cx="234.71" cy="215.02" r="3.2"/><circle cx="237.26" cy="215.37" r="3.2"/><circle cx="239.69" cy="215.71" r="3.2"/><circle cx="241.99" cy="216.02" r="3.2"/><circle cx="244.19" cy="216.32" r="3.2"/><circle cx="246.29" cy="216.60" r="3.2"/><circle cx="248.30" cy="216.87" r="3.2"/><circle cx="250.23" cy="217.13" r="3.2"/><circle cx="252.08" cy="217.38" r="3.2"/><circle cx="253.86" cy="217.62" r="3.2"/><circle cx="255.58" cy="217.85" r="3.2"/><circle cx="257.24" cy="218.07" r="3.2"/><circle cx="258.84" cy="218.28" r="3.2"/><circle cx="260.39" cy="218.49" r="3.2"/><circle cx="261.89" cy="218.69" r="3.2"/><circle cx="263.34" cy="218.88" r="3.2"/><circle cx="264.75" cy="219.06" r="3.2"/><circle cx="266.12" cy="219.25" r="3.2"/><circle cx="267.45" cy="219.42" r="3.2"/><circle cx="268.74" cy="219.59" r="3.2"/><circle cx="270.00" cy="219.76" r="3.2"/><circle cx="271.23" cy="219.92" r="3.2"/><circle cx="272.42" cy="220.07" r="3.2"/><circle cx="273.59" cy="220.23" r="3.2"/><circle cx="274.73" cy="220.38" r="3.2"/><circle cx="275.84" cy="220.52" r="3.2"/><circle cx="276.93" cy="220.66" r="3.2"/><circle cx="277.99" cy="220.80" r="3.2"/><circle cx="279.02" cy="220.94" r="3.2"/><circle cx="280.04" cy="221.07" r="3.2"/><circle cx="281.03" cy="221.20" r="3.2"/><circle cx="282.01" cy="221.33" r="3.2"/><circle cx="282.96" cy="221.45" r="3.2"/><circle cx="283.90" cy="221.57" r="3.2"/><circle cx="284.82" cy="221.69" r="3.2"/><circle cx="285.72" cy="221.81" r="3.2"/><circle cx="286.60" cy="221.92" r="3.2"/><circle cx="287.46" cy="222.03" r="3.2"/><circle cx="288.32" cy="222.14" r="3.2"/><circle cx="289.15" cy="222.25" r="3.2"/><circle cx="289.97" cy="222.35" r="3.2"/><circle cx="290.78" cy="222.46" r="3.2"/><circle cx="291.57" cy="222.56" r="3.2"/><circle cx="292.35" cy="222.66" r="3.2"/><circle cx="293.12" cy="222.76" r="3.2"/><circle cx="293.88" cy="222.86" r="3.2"/><circle cx="294.62" cy="222.95" r="3.2"/><circle cx="295.35" cy="223.04" r="3.2"/><circle cx="296.08" cy="223.14" r="3.2"/><circle cx="296.79" cy="223.23" r="3.2"/><circle cx="297.49" cy="223.32" r="3.2"/><circle cx="298.17" cy="223.40" r="3.2"/><circle cx="298.85" cy="223.49" r="3.2"/><circle cx="299.52" cy="223.58" r="3.2"/><circle cx="300.18" cy="223.66" r="3.2"/><circle cx="300.84" cy="223.74" r="3.2"/><circle cx="301.48" cy="223.82" r="3.2"/><circle cx="302.11" cy="223.90" r="3.2"/><circle cx="302.74" cy="223.98" r="3.2"/><circle cx="303.36" cy="224.06" r="3.2"/><circle cx="303.97" cy="224.14" r="3.2"/><circle cx="304.57" cy="224.21" r="3.2"/><circle cx="305.16" cy="224.29" r="3.2"/><circle cx="305.75" cy="224.36" r="3.2"/><circle cx="306.33" cy="224.44" r="3.2"/><circle cx="306.90" cy="224.51" r="3.2"/><circle cx="307.47" cy="224.58" r="3.2"/><circle cx="308.02" cy="224.65" r="3.2"/><circle cx="308.58" cy="224.72" r="3.2"/><circle cx="309.12" cy="224.79" r="3.2"/><circle cx="309.66" cy="224.86" r="3.2"/><circle cx="310.20" cy="224.92" r="3.2"/><circle cx="310.72" cy="224.99" r="3.2"/><circle cx="311.25" cy="225.05" r="3.2"/><circle cx="311.76" cy="225.12" r="3.2"/><circle cx="312.27" cy="225.18" r="3.2"/><circle cx="312.78" cy="225.24" r="3.2"/><circle cx="313.28" cy="225.31" r="3.2"/><circle cx="313.77" cy="225.37" r="3.2"/><circle cx="314.26" cy="225.43" r="3.2"/><circle cx="314.75" cy="225.49" r="3.2"/><circle cx="315.23" cy="225.55" r="3.2"/><circle cx="315.70" cy="225.61" r="3.2"/><circle cx="317.80" cy="225.87" r="3.2"/><circle cx="319.90" cy="226.13" r="3.2"/><circle cx="321.99" cy="226.39" r="3.2"/><circle cx="324.09" cy="226.64" r="3.2"/><circle cx="326.19" cy="226.90" r="3.2"/><circle cx="328.29" cy="227.16" r="3.2"/><circle cx="330.38" cy="227.41" r="3.2"/><circle cx="332.48" cy="227.67" r="3.2"/><circle cx="334.58" cy="227.92" r="3.2"/><circle cx="336.68" cy="228.17" r="3.2"/><circle cx="338.77" cy="228.42" r="3.2"/><circle cx="340.87" cy="228.67" r="3.2"/><circle cx="342.97" cy="228.92" r="3.2"/><circle cx="345.07" cy="229.17" r="3.2"/><circle cx="347.17" cy="229.42" r="3.2"/><circle cx="349.26" cy="229.66" r="3.2"/><circle cx="351.36" cy="229.91" r="3.2"/><circle cx="353.46" cy="230.15" r="3.2"/><circle cx="355.56" cy="230.40" r="3.2"/><circle cx="357.65" cy="230.64" r="3.2"/><circle cx="359.75" cy="230.88" r="3.2"/><circle cx="361.85" cy="231.12" r="3.2"/><circle cx="363.95" cy="231.36" r="3.2"/><circle cx="366.04" cy="231.60" r="3.2"/><circle cx="368.14" cy="231.83" r="3.2"/><circle cx="370.24" cy="232.07" r="3.2"/><circle cx="372.34" cy="232.30" r="3.2"/><circle cx="374.44" cy="232.54" r="3.2"/><circle cx="376.53" cy="232.77" r="3.2"/><circle cx="378.63" cy="233.00" r="3.2"/><circle cx="380.73" cy="233.23" r="3.2"/><circle cx="382.83" cy="233.46" r="3.2"/><circle cx="384.92" cy="233.69" r="3.2"/><circle cx="387.02" cy="233.91" r="3.2"/><circle cx="389.12" cy="234.14" r="3.2"/><circle cx="391.22" cy="234.36" r="3.2"/><circle cx="393.31" cy="234.58" r="3.2"/><circle cx="395.41" cy="234.80" r="3.2"/><circle cx="397.51" cy="235.02" r="3.2"/><circle cx="399.61" cy="235.24" r="3.2"/><circle cx="401.71" cy="235.46" r="3.2"/><circle cx="403.80" cy="235.67" r="3.2"/><circle cx="405.90" cy="235.89" r="3.2"/><circle cx="408.00" cy="236.10" r="3.2"/><circle cx="410.10" cy="236.31" r="3.2"/><circle cx="412.19" cy="236.52" r="3.2"/><circle cx="414.29" cy="236.73" r="3.2"/><circle cx="416.39" cy="236.94" r="3.2"/><circle cx="418.49" cy="237.15" r="3.2"/><circle cx="420.58" cy="237.35" r="3.2"/><circle cx="422.68" cy="237.56" r="3.2"/><circle cx="424.78" cy="237.76" r="3.2"/><circle cx="426.88" cy="237.96" r="3.2"/><circle cx="428.97" cy="238.16" r="3.2"/><circle cx="431.07" cy="238.36" r="3.2"/><circle cx="433.17" cy="238.55" r="3.2"/><circle cx="435.27" cy="238.75" r="3.2"/><circle cx="437.37" cy="238.94" r="3.2"/><circle cx="439.46" cy="239.13" r="3.2"/><circle cx="441.56" cy="239.32" r="3.2"/><circle cx="443.66" cy="239.51" r="3.2"/><circle cx="445.76" cy="239.70" r="3.2"/><circle cx="447.85" cy="239.88" r="3.2"/><circle cx="449.95" cy="240.07" r="3.2"/><circle cx="452.05" cy="240.25" r="3.2"/><circle cx="454.15" cy="240.43" r="3.2"/><circle cx="456.24" cy="240.61" r="3.2"/><circle cx="458.34" cy="240.78" r="3.2"/><circle cx="460.44" cy="240.96" r="3.2"/><circle cx="462.54" cy="241.13" r="3.2"/><circle cx="464.64" cy="241.31" r="3.2"/><circle cx="466.73" cy="241.48" r="3.2"/><circle cx="468.83" cy="241.65" r="3.2"/><circle cx="470.93" cy="241.81" r="3.2"/><circle cx="473.03" cy="241.98" r="3.2"/><circle cx="475.12" cy="242.14" r="3.2"/><circle cx="477.22" cy="242.30" r="3.2"/><circle cx="479.32" cy="242.46" r="3.2"/><circle cx="481.42" cy="242.62" r="3.2"/><circle cx="483.51" cy="242.78" r="3.2"/><circle cx="485.61" cy="242.93" r="3.2"/><circle cx="487.71" cy="243.09" r="3.2"/><circle cx="489.81" cy="243.24" r="3.2"/><circle cx="491.91" cy="243.39" r="3.2"/><circle cx="494.00" cy="243.54" r="3.2"/><circle cx="496.10" cy="243.68" r="3.2"/><circle cx="498.20" cy="243.83" r="3.2"/><circle cx="500.30" cy="243.97" r="3.2"/><circle cx="502.39" cy="244.11" r="3.2"/><circle cx="504.49" cy="244.25" r="3.2"/><circle cx="506.59" cy="244.38" r="3.2"/><circle cx="508.69" cy="244.52" r="3.2"/><circle cx="510.78" cy="244.65" r="3.2"/><circle cx="512.88" cy="244.78" r="3.2"/><circle cx="514.98" cy="244.91" r="3.2"/><circle cx="517.08" cy="245.03" r="3.2"/><circle cx="519.18" cy="245.16" r="3.2"/><circle cx="521.27" cy="245.28" r="3.2"/><circle cx="523.37" cy="245.40" r="3.2"/><circle cx="525.47" cy="245.52" r="3.2"/><circle cx="527.57" cy="245.64" r="3.2"/><circle cx="529.66" cy="245.75" r="3.2"/><circle cx="531.76" cy="245.86" r="3.2"/></g><g fill="#ec8c40" stroke="#ff0a00" stroke-width="1.35"><circle cx="98.20" cy="191.60" r="3.2"/><circle cx="130.94" cy="191.90" r="3.2"/><circle cx="150.09" cy="195.60" r="3.2"/><circle cx="163.67" cy="198.80" r="3.2"/><circle cx="174.21" cy="201.70" r="3.2"/><circle cx="182.82" cy="204.30" r="3.2"/><circle cx="190.10" cy="206.50" r="3.2"/><circle cx="196.41" cy="207.70" r="3.2"/><circle cx="201.97" cy="209.00" r="3.2"/><circle cx="206.95" cy="210.30" r="3.2"/><circle cx="211.45" cy="212.49" r="3.2"/><circle cx="215.56" cy="213.53" r="3.2"/><circle cx="219.34" cy="214.48" r="3.2"/><circle cx="222.84" cy="215.35" r="3.2"/><circle cx="226.10" cy="216.14" r="3.2"/><circle cx="229.15" cy="216.87" r="3.2"/><circle cx="232.01" cy="217.55" r="3.2"/><circle cx="234.71" cy="218.19" r="3.2"/><circle cx="237.26" cy="218.78" r="3.2"/><circle cx="239.69" cy="219.33" r="3.2"/><circle cx="241.99" cy="219.86" r="3.2"/><circle cx="244.19" cy="220.35" r="3.2"/><circle cx="246.29" cy="220.82" r="3.2"/><circle cx="248.30" cy="221.27" r="3.2"/><circle cx="250.23" cy="221.69" r="3.2"/><circle cx="252.08" cy="222.09" r="3.2"/><circle cx="253.86" cy="222.48" r="3.2"/><circle cx="255.58" cy="222.85" r="3.2"/><circle cx="257.24" cy="223.20" r="3.2"/><circle cx="258.84" cy="223.54" r="3.2"/><circle cx="260.39" cy="223.87" r="3.2"/><circle cx="261.89" cy="224.18" r="3.2"/><circle cx="263.34" cy="224.48" r="3.2"/><circle cx="264.75" cy="224.78" r="3.2"/><circle cx="266.12" cy="225.06" r="3.2"/><circle cx="267.45" cy="225.33" r="3.2"/><circle cx="268.74" cy="225.60" r="3.2"/><circle cx="270.00" cy="225.86" r="3.2"/><circle cx="271.23" cy="226.11" r="3.2"/><circle cx="272.42" cy="226.35" r="3.2"/><circle cx="273.59" cy="226.58" r="3.2"/><circle cx="274.73" cy="226.81" r="3.2"/><circle cx="275.84" cy="227.04" r="3.2"/><circle cx="276.93" cy="227.26" r="3.2"/><circle cx="277.99" cy="227.47" r="3.2"/><circle cx="279.02" cy="227.68" r="3.2"/><circle cx="280.04" cy="227.88" r="3.2"/><circle cx="281.03" cy="228.08" r="3.2"/><circle cx="282.01" cy="228.27" r="3.2"/><circle cx="282.96" cy="228.46" r="3.2"/><circle cx="283.90" cy="228.65" r="3.2"/><circle cx="284.82" cy="228.83" r="3.2"/><circle cx="285.72" cy="229.01" r="3.2"/><circle cx="286.60" cy="229.18" r="3.2"/><circle cx="287.46" cy="229.35" r="3.2"/><circle cx="288.32" cy="229.52" r="3.2"/><circle cx="289.15" cy="229.69" r="3.2"/><circle cx="289.97" cy="229.85" r="3.2"/><circle cx="290.78" cy="230.01" r="3.2"/><circle cx="291.57" cy="230.17" r="3.2"/><circle cx="292.35" cy="230.32" r="3.2"/><circle cx="293.12" cy="230.47" r="3.2"/><circle cx="293.88" cy="230.62" r="3.2"/><circle cx="294.62" cy="230.77" r="3.2"/><circle cx="295.35" cy="230.91" r="3.2"/><circle cx="296.08" cy="231.05" r="3.2"/><circle cx="296.79" cy="231.19" r="3.2"/><circle cx="297.49" cy="231.33" r="3.2"/><circle cx="298.17" cy="231.47" r="3.2"/><circle cx="298.85" cy="231.60" r="3.2"/><circle cx="299.52" cy="231.74" r="3.2"/><circle cx="300.18" cy="231.87" r="3.2"/><circle cx="300.84" cy="231.99" r="3.2"/><circle cx="301.48" cy="232.12" r="3.2"/><circle cx="302.11" cy="232.25" r="3.2"/><circle cx="302.74" cy="232.37" r="3.2"/><circle cx="303.36" cy="232.49" r="3.2"/><circle cx="303.97" cy="232.61" r="3.2"/><circle cx="304.57" cy="232.73" r="3.2"/><circle cx="305.16" cy="232.85" r="3.2"/><circle cx="305.75" cy="232.97" r="3.2"/><circle cx="306.33" cy="233.08" r="3.2"/><circle cx="306.90" cy="233.20" r="3.2"/><circle cx="307.47" cy="233.31" r="3.2"/><circle cx="308.02" cy="233.42" r="3.2"/><circle cx="308.58" cy="233.53" r="3.2"/><circle cx="309.12" cy="233.64" r="3.2"/><circle cx="309.66" cy="233.75" r="3.2"/><circle cx="310.20" cy="233.85" r="3.2"/><circle cx="310.72" cy="233.96" r="3.2"/><circle cx="311.25" cy="234.06" r="3.2"/><circle cx="311.76" cy="234.17" r="3.2"/><circle cx="312.27" cy="234.27" r="3.2"/><circle cx="312.78" cy="234.37" r="3.2"/><circle cx="313.28" cy="234.47" r="3.2"/><circle cx="313.77" cy="234.57" r="3.2"/><circle cx="314.26" cy="234.67" r="3.2"/><circle cx="314.75" cy="234.77" r="3.2"/><circle cx="315.23" cy="234.86" r="3.2"/><circle cx="315.70" cy="234.96" r="3.2"/><circle cx="317.80" cy="235.38" r="3.2"/><circle cx="319.90" cy="235.81" r="3.2"/><circle cx="321.99" cy="236.24" r="3.2"/><circle cx="324.09" cy="236.67" r="3.2"/><circle cx="326.19" cy="237.10" r="3.2"/><circle cx="328.29" cy="237.53" r="3.2"/><circle cx="330.38" cy="237.97" r="3.2"/><circle cx="332.48" cy="238.40" r="3.2"/><circle cx="334.58" cy="238.84" r="3.2"/><circle cx="336.68" cy="239.27" r="3.2"/><circle cx="338.77" cy="239.71" r="3.2"/><circle cx="340.87" cy="240.15" r="3.2"/><circle cx="342.97" cy="240.58" r="3.2"/><circle cx="345.07" cy="241.02" r="3.2"/><circle cx="347.17" cy="241.46" r="3.2"/><circle cx="349.26" cy="241.89" r="3.2"/><circle cx="351.36" cy="242.33" r="3.2"/><circle cx="353.46" cy="242.76" r="3.2"/><circle cx="355.56" cy="243.20" r="3.2"/><circle cx="357.65" cy="243.63" r="3.2"/><circle cx="359.75" cy="244.06" r="3.2"/><circle cx="361.85" cy="244.49" r="3.2"/><circle cx="363.95" cy="244.92" r="3.2"/><circle cx="366.04" cy="245.35" r="3.2"/><circle cx="368.14" cy="245.78" r="3.2"/><circle cx="370.24" cy="246.20" r="3.2"/><circle cx="372.34" cy="246.62" r="3.2"/><circle cx="374.44" cy="247.04" r="3.2"/><circle cx="376.53" cy="247.46" r="3.2"/><circle cx="378.63" cy="247.88" r="3.2"/><circle cx="380.73" cy="248.29" r="3.2"/><circle cx="382.83" cy="248.70" r="3.2"/><circle cx="384.92" cy="249.11" r="3.2"/><circle cx="387.02" cy="249.52" r="3.2"/><circle cx="389.12" cy="249.92" r="3.2"/><circle cx="391.22" cy="250.32" r="3.2"/><circle cx="393.31" cy="250.72" r="3.2"/><circle cx="395.41" cy="251.12" r="3.2"/><circle cx="397.51" cy="251.51" r="3.2"/><circle cx="399.61" cy="251.90" r="3.2"/><circle cx="401.71" cy="252.29" r="3.2"/><circle cx="403.80" cy="252.67" r="3.2"/><circle cx="405.90" cy="253.06" r="3.2"/><circle cx="408.00" cy="253.43" r="3.2"/><circle cx="410.10" cy="253.81" r="3.2"/><circle cx="412.19" cy="254.18" r="3.2"/><circle cx="414.29" cy="254.55" r="3.2"/><circle cx="416.39" cy="254.92" r="3.2"/><circle cx="418.49" cy="255.28" r="3.2"/><circle cx="420.58" cy="255.64" r="3.2"/><circle cx="422.68" cy="256.00" r="3.2"/><circle cx="424.78" cy="256.35" r="3.2"/><circle cx="426.88" cy="256.70" r="3.2"/><circle cx="428.97" cy="257.05" r="3.2"/><circle cx="431.07" cy="257.39" r="3.2"/><circle cx="433.17" cy="257.73" r="3.2"/><circle cx="435.27" cy="258.06" r="3.2"/><circle cx="437.37" cy="258.39" r="3.2"/><circle cx="439.46" cy="258.72" r="3.2"/><circle cx="441.56" cy="259.04" r="3.2"/><circle cx="443.66" cy="259.36" r="3.2"/><circle cx="445.76" cy="259.68" r="3.2"/><circle cx="447.85" cy="259.99" r="3.2"/><circle cx="449.95" cy="260.30" r="3.2"/><circle cx="452.05" cy="260.60" r="3.2"/><circle cx="454.15" cy="260.90" r="3.2"/><circle cx="456.24" cy="261.20" r="3.2"/><circle cx="458.34" cy="261.49" r="3.2"/><circle cx="460.44" cy="261.77" r="3.2"/><circle cx="462.54" cy="262.05" r="3.2"/><circle cx="464.64" cy="262.33" r="3.2"/><circle cx="466.73" cy="262.60" r="3.2"/><circle cx="468.83" cy="262.87" r="3.2"/><circle cx="470.93" cy="263.14" r="3.2"/><circle cx="473.03" cy="263.40" r="3.2"/><circle cx="475.12" cy="263.65" r="3.2"/><circle cx="477.22" cy="263.90" r="3.2"/><circle cx="479.32" cy="264.15" r="3.2"/><circle cx="481.42" cy="264.40" r="3.2"/><circle cx="483.51" cy="264.64" r="3.2"/><circle cx="485.61" cy="264.87" r="3.2"/><circle cx="487.71" cy="265.10" r="3.2"/><circle cx="489.81" cy="265.33" r="3.2"/><circle cx="491.91" cy="265.56" r="3.2"/><circle cx="494.00" cy="265.78" r="3.2"/><circle cx="496.10" cy="266.00" r="3.2"/><circle cx="498.20" cy="266.21" r="3.2"/><circle cx="500.30" cy="266.42" r="3.2"/><circle cx="502.39" cy="266.63" r="3.2"/><circle cx="504.49" cy="266.83" r="3.2"/><circle cx="506.59" cy="267.03" r="3.2"/><circle cx="508.69" cy="267.23" r="3.2"/><circle cx="510.78" cy="267.42" r="3.2"/><circle cx="512.88" cy="267.61" r="3.2"/><circle cx="514.98" cy="267.80" r="3.2"/><circle cx="517.08" cy="267.98" r="3.2"/><circle cx="519.18" cy="268.16" r="3.2"/><circle cx="521.27" cy="268.34" r="3.2"/><circle cx="523.37" cy="268.51" r="3.2"/><circle cx="525.47" cy="268.68" r="3.2"/><circle cx="527.57" cy="268.85" r="3.2"/><circle cx="529.66" cy="269.02" r="3.2"/><circle cx="531.76" cy="269.18" r="3.2"/></g><g fill="#92d050" stroke="#0db04b" stroke-width="1.35"><circle cx="98.20" cy="196.90" r="3.2"/><circle cx="130.94" cy="198.60" r="3.2"/><circle cx="150.09" cy="202.90" r="3.2"/><circle cx="163.67" cy="206.20" r="3.2"/><circle cx="174.21" cy="209.40" r="3.2"/><circle cx="182.82" cy="211.70" r="3.2"/><circle cx="190.10" cy="214.10" r="3.2"/><circle cx="196.41" cy="215.70" r="3.2"/><circle cx="201.97" cy="217.50" r="3.2"/><circle cx="206.95" cy="218.80" r="3.2"/><circle cx="211.45" cy="220.68" r="3.2"/><circle cx="215.56" cy="221.82" r="3.2"/><circle cx="219.34" cy="222.85" r="3.2"/><circle cx="222.84" cy="223.80" r="3.2"/><circle cx="226.10" cy="224.67" r="3.2"/><circle cx="229.15" cy="225.48" r="3.2"/><circle cx="232.01" cy="226.23" r="3.2"/><circle cx="234.71" cy="226.93" r="3.2"/><circle cx="237.26" cy="227.59" r="3.2"/><circle cx="239.69" cy="228.21" r="3.2"/><circle cx="241.99" cy="228.79" r="3.2"/><circle cx="244.19" cy="229.34" r="3.2"/><circle cx="246.29" cy="229.86" r="3.2"/><circle cx="248.30" cy="230.36" r="3.2"/><circle cx="250.23" cy="230.83" r="3.2"/><circle cx="252.08" cy="231.28" r="3.2"/><circle cx="253.86" cy="231.70" r="3.2"/><circle cx="255.58" cy="232.11" r="3.2"/><circle cx="257.24" cy="232.50" r="3.2"/><circle cx="258.84" cy="232.88" r="3.2"/><circle cx="260.39" cy="233.24" r="3.2"/><circle cx="261.89" cy="233.59" r="3.2"/><circle cx="263.34" cy="233.92" r="3.2"/><circle cx="264.75" cy="234.25" r="3.2"/><circle cx="266.12" cy="234.56" r="3.2"/><circle cx="267.45" cy="234.86" r="3.2"/><circle cx="268.74" cy="235.15" r="3.2"/><circle cx="270.00" cy="235.43" r="3.2"/><circle cx="271.23" cy="235.71" r="3.2"/><circle cx="272.42" cy="235.97" r="3.2"/><circle cx="273.59" cy="236.23" r="3.2"/><circle cx="274.73" cy="236.48" r="3.2"/><circle cx="275.84" cy="236.73" r="3.2"/><circle cx="276.93" cy="236.97" r="3.2"/><circle cx="277.99" cy="237.20" r="3.2"/><circle cx="279.02" cy="237.43" r="3.2"/><circle cx="280.04" cy="237.65" r="3.2"/><circle cx="281.03" cy="237.87" r="3.2"/><circle cx="282.01" cy="238.08" r="3.2"/><circle cx="282.96" cy="238.28" r="3.2"/><circle cx="283.90" cy="238.49" r="3.2"/><circle cx="284.82" cy="238.69" r="3.2"/><circle cx="285.72" cy="238.88" r="3.2"/><circle cx="286.60" cy="239.07" r="3.2"/><circle cx="287.46" cy="239.26" r="3.2"/><circle cx="288.32" cy="239.44" r="3.2"/><circle cx="289.15" cy="239.62" r="3.2"/><circle cx="289.97" cy="239.80" r="3.2"/><circle cx="290.78" cy="239.97" r="3.2"/><circle cx="291.57" cy="240.14" r="3.2"/><circle cx="292.35" cy="240.31" r="3.2"/><circle cx="293.12" cy="240.47" r="3.2"/><circle cx="293.88" cy="240.63" r="3.2"/><circle cx="294.62" cy="240.79" r="3.2"/><circle cx="295.35" cy="240.95" r="3.2"/><circle cx="296.08" cy="241.10" r="3.2"/><circle cx="296.79" cy="241.26" r="3.2"/><circle cx="297.49" cy="241.41" r="3.2"/><circle cx="298.17" cy="241.55" r="3.2"/><circle cx="298.85" cy="241.70" r="3.2"/><circle cx="299.52" cy="241.84" r="3.2"/><circle cx="300.18" cy="241.98" r="3.2"/><circle cx="300.84" cy="242.12" r="3.2"/><circle cx="301.48" cy="242.26" r="3.2"/><circle cx="302.11" cy="242.40" r="3.2"/><circle cx="302.74" cy="242.53" r="3.2"/><circle cx="303.36" cy="242.66" r="3.2"/><circle cx="303.97" cy="242.79" r="3.2"/><circle cx="304.57" cy="242.92" r="3.2"/><circle cx="305.16" cy="243.05" r="3.2"/><circle cx="305.75" cy="243.18" r="3.2"/><circle cx="306.33" cy="243.30" r="3.2"/><circle cx="306.90" cy="243.42" r="3.2"/><circle cx="307.47" cy="243.55" r="3.2"/><circle cx="308.02" cy="243.67" r="3.2"/><circle cx="308.58" cy="243.78" r="3.2"/><circle cx="309.12" cy="243.90" r="3.2"/><circle cx="309.66" cy="244.02" r="3.2"/><circle cx="310.20" cy="244.13" r="3.2"/><circle cx="310.72" cy="244.25" r="3.2"/><circle cx="311.25" cy="244.36" r="3.2"/><circle cx="311.76" cy="244.47" r="3.2"/><circle cx="312.27" cy="244.58" r="3.2"/><circle cx="312.78" cy="244.69" r="3.2"/><circle cx="313.28" cy="244.80" r="3.2"/><circle cx="313.77" cy="244.91" r="3.2"/><circle cx="314.26" cy="245.02" r="3.2"/><circle cx="314.75" cy="245.12" r="3.2"/><circle cx="315.23" cy="245.23" r="3.2"/><circle cx="315.70" cy="245.33" r="3.2"/><circle cx="317.80" cy="245.79" r="3.2"/><circle cx="319.90" cy="246.25" r="3.2"/><circle cx="321.99" cy="246.71" r="3.2"/><circle cx="324.09" cy="247.18" r="3.2"/><circle cx="326.19" cy="247.64" r="3.2"/><circle cx="328.29" cy="248.11" r="3.2"/><circle cx="330.38" cy="248.58" r="3.2"/><circle cx="332.48" cy="249.05" r="3.2"/><circle cx="334.58" cy="249.52" r="3.2"/><circle cx="336.68" cy="249.99" r="3.2"/><circle cx="338.77" cy="250.46" r="3.2"/><circle cx="340.87" cy="250.93" r="3.2"/><circle cx="342.97" cy="251.40" r="3.2"/><circle cx="345.07" cy="251.87" r="3.2"/><circle cx="347.17" cy="252.35" r="3.2"/><circle cx="349.26" cy="252.82" r="3.2"/><circle cx="351.36" cy="253.29" r="3.2"/><circle cx="353.46" cy="253.76" r="3.2"/><circle cx="355.56" cy="254.23" r="3.2"/><circle cx="357.65" cy="254.70" r="3.2"/><circle cx="359.75" cy="255.16" r="3.2"/><circle cx="361.85" cy="255.63" r="3.2"/><circle cx="363.95" cy="256.10" r="3.2"/><circle cx="366.04" cy="256.56" r="3.2"/><circle cx="368.14" cy="257.02" r="3.2"/><circle cx="370.24" cy="257.48" r="3.2"/><circle cx="372.34" cy="257.94" r="3.2"/><circle cx="374.44" cy="258.39" r="3.2"/><circle cx="376.53" cy="258.85" r="3.2"/><circle cx="378.63" cy="259.30" r="3.2"/><circle cx="380.73" cy="259.75" r="3.2"/><circle cx="382.83" cy="260.20" r="3.2"/><circle cx="384.92" cy="260.64" r="3.2"/><circle cx="387.02" cy="261.08" r="3.2"/><circle cx="389.12" cy="261.52" r="3.2"/><circle cx="391.22" cy="261.96" r="3.2"/><circle cx="393.31" cy="262.40" r="3.2"/><circle cx="395.41" cy="262.83" r="3.2"/><circle cx="397.51" cy="263.26" r="3.2"/><circle cx="399.61" cy="263.69" r="3.2"/><circle cx="401.71" cy="264.12" r="3.2"/><circle cx="403.80" cy="264.54" r="3.2"/><circle cx="405.90" cy="264.96" r="3.2"/><circle cx="408.00" cy="265.38" r="3.2"/><circle cx="410.10" cy="265.80" r="3.2"/><circle cx="412.19" cy="266.21" r="3.2"/><circle cx="414.29" cy="266.62" r="3.2"/><circle cx="416.39" cy="267.03" r="3.2"/><circle cx="418.49" cy="267.44" r="3.2"/><circle cx="420.58" cy="267.84" r="3.2"/><circle cx="422.68" cy="268.24" r="3.2"/><circle cx="424.78" cy="268.64" r="3.2"/><circle cx="426.88" cy="269.03" r="3.2"/><circle cx="428.97" cy="269.43" r="3.2"/><circle cx="431.07" cy="269.82" r="3.2"/><circle cx="433.17" cy="270.20" r="3.2"/><circle cx="435.27" cy="270.59" r="3.2"/><circle cx="437.37" cy="270.97" r="3.2"/><circle cx="439.46" cy="271.35" r="3.2"/><circle cx="441.56" cy="271.72" r="3.2"/><circle cx="443.66" cy="272.09" r="3.2"/><circle cx="445.76" cy="272.46" r="3.2"/><circle cx="447.85" cy="272.83" r="3.2"/><circle cx="449.95" cy="273.19" r="3.2"/><circle cx="452.05" cy="273.55" r="3.2"/><circle cx="454.15" cy="273.91" r="3.2"/><circle cx="456.24" cy="274.26" r="3.2"/><circle cx="458.34" cy="274.61" r="3.2"/><circle cx="460.44" cy="274.96" r="3.2"/><circle cx="462.54" cy="275.31" r="3.2"/><circle cx="464.64" cy="275.65" r="3.2"/><circle cx="466.73" cy="275.99" r="3.2"/><circle cx="468.83" cy="276.32" r="3.2"/><circle cx="470.93" cy="276.65" r="3.2"/><circle cx="473.03" cy="276.98" r="3.2"/><circle cx="475.12" cy="277.30" r="3.2"/><circle cx="477.22" cy="277.63" r="3.2"/><circle cx="479.32" cy="277.94" r="3.2"/><circle cx="481.42" cy="278.26" r="3.2"/><circle cx="483.51" cy="278.57" r="3.2"/><circle cx="485.61" cy="278.88" r="3.2"/><circle cx="487.71" cy="279.18" r="3.2"/><circle cx="489.81" cy="279.48" r="3.2"/><circle cx="491.91" cy="279.78" r="3.2"/><circle cx="494.00" cy="280.07" r="3.2"/><circle cx="496.10" cy="280.36" r="3.2"/><circle cx="498.20" cy="280.65" r="3.2"/><circle cx="500.30" cy="280.93" r="3.2"/><circle cx="502.39" cy="281.21" r="3.2"/><circle cx="504.49" cy="281.48" r="3.2"/><circle cx="506.59" cy="281.75" r="3.2"/><circle cx="508.69" cy="282.02" r="3.2"/><circle cx="510.78" cy="282.29" r="3.2"/><circle cx="512.88" cy="282.55" r="3.2"/><circle cx="514.98" cy="282.80" r="3.2"/><circle cx="517.08" cy="283.05" r="3.2"/><circle cx="519.18" cy="283.30" r="3.2"/><circle cx="521.27" cy="283.54" r="3.2"/><circle cx="523.37" cy="283.78" r="3.2"/><circle cx="525.47" cy="284.02" r="3.2"/><circle cx="527.57" cy="284.25" r="3.2"/><circle cx="529.66" cy="284.48" r="3.2"/><circle cx="531.76" cy="284.70" r="3.2"/></g><rect x="410.62" y="34.83" width="6.75" height="6.75" fill="#a3c4ea" stroke="#1f78d2" stroke-width="1.25"/><rect x="410.62" y="58.83" width="6.75" height="6.75" fill="#f4b183" stroke="#ff1010" stroke-width="1.25"/><rect x="410.62" y="82.83" width="6.75" height="6.75" fill="#a9d18e" stroke="#1fae4c" stroke-width="1.25"/></svg>
<div id="tx">
<div class="t" style="left:32.51px;top:8.77px;font-size:14.8px;transform-origin:0 12.23px;transform:scaleY(1.045);"><span class="o">1</span>.0</div>
<div class="t" style="left:56.79px;top:12.67px;font-size:10.2px;">x</div>
<div class="t" style="left:62.82px;top:8.77px;font-size:14.8px;transform-origin:0 12.23px;transform:scaleY(1.045);"><span class="o">1</span>0</div>
<div class="t" style="left:79.35px;top:7.50px;font-size:10.4px;">8</div>
<div class="t" style="left:34.41px;top:82.77px;font-size:14.8px;transform-origin:0 12.23px;transform:scaleY(1.045);"><span class="o">1</span>.0</div>
<div class="t" style="left:58.20px;top:87.68px;font-size:9.0px;">x</div>
<div class="t" style="left:67.82px;top:82.77px;font-size:14.8px;transform-origin:0 12.23px;transform:scaleY(1.045);"><span class="o">1</span>0</div>
<div class="t" style="left:84.22px;top:82.34px;font-size:9.4px;">7</div>
<div class="t" style="left:34.01px;top:163.77px;font-size:14.8px;transform-origin:0 12.23px;transform:scaleY(1.045);"><span class="o">1</span>.0</div>
<div class="t" style="left:57.80px;top:168.68px;font-size:9.0px;">x</div>
<div class="t" style="left:66.72px;top:163.77px;font-size:14.8px;transform-origin:0 12.23px;transform:scaleY(1.045);"><span class="o">1</span>0</div>
<div class="t" style="left:83.52px;top:163.34px;font-size:9.4px;">6</div>
<div class="t" style="left:36.81px;top:245.77px;font-size:14.8px;transform-origin:0 12.23px;transform:scaleY(1.045);"><span class="o">1</span>.0</div>
<div class="t" style="left:60.70px;top:251.02px;font-size:8.6px;">x</div>
<div class="t" style="left:65.92px;top:245.77px;font-size:14.8px;transform-origin:0 12.23px;transform:scaleY(1.045);"><span class="o">1</span>0</div>
<div class="t" style="left:82.81px;top:245.00px;font-size:9.8px;">5</div>
<div class="t" style="left:36.01px;top:318.77px;font-size:14.8px;transform-origin:0 12.23px;transform:scaleY(1.045);"><span class="o">1</span>.0</div>
<div class="t" style="left:60.20px;top:324.02px;font-size:8.6px;">x</div>
<div class="t" style="left:65.32px;top:318.77px;font-size:14.8px;transform-origin:0 12.23px;transform:scaleY(1.045);"><span class="o">1</span>0</div>
<div class="t" style="left:81.77px;top:317.67px;font-size:10.2px;">4</div>
<div class="t" style="left:48.00px;top:339.77px;width:100px;text-align:center;font-size:14.8px;transform-origin:0 12.23px;transform:scaleY(1.045);">0.0<span class="o">1</span></div>
<div class="t" style="left:157.05px;top:339.77px;width:100px;text-align:center;font-size:14.8px;transform-origin:0 12.23px;transform:scaleY(1.045);">0.<span class="o">1</span></div>
<div class="t" style="left:266.10px;top:339.77px;width:100px;text-align:center;font-size:14.8px;transform-origin:0 12.23px;transform:scaleY(1.045);"><span class="o">1</span></div>
<div class="t" style="left:374.80px;top:339.77px;width:100px;text-align:center;font-size:14.8px;transform-origin:0 12.23px;transform:scaleY(1.045);"><span class="o">1</span>0</div>
<div class="t" style="left:483.25px;top:339.77px;width:100px;text-align:center;font-size:14.8px;transform-origin:0 12.23px;transform:scaleY(1.045);"><span class="o">1</span>00</div>
<div class="t" style="left:265.10px;top:358.52px;width:100px;text-align:center;font-size:15.1px;transform-origin:0 12.48px;transform:scaleY(1.045);">Time (s)</div>
<div class="t" style="left:420.94px;top:30.35px;font-size:15.3px;transform-origin:0 12.65px;transform:scaleY(1.01);">PVC-BA</div>
<div class="t" style="left:420.94px;top:54.35px;font-size:15.3px;transform-origin:0 12.65px;transform:scaleY(1.01);">PVC-EHA</div>
<div class="t" style="left:420.94px;top:78.35px;font-size:15.3px;transform-origin:0 12.65px;transform:scaleY(1.01);">PVC-2PHA</div>
<div class="t" style="left:-38.20px;top:162.20px;width:100px;height:20px;line-height:20px;text-align:center;font-size:15.3px;transform:rotate(-90deg)">G(t) (Pa)</div>
<div style="position:absolute;left:29px;top:246.2px;width:1.6px;height:1.6px;background:#b0b0b0"></div>
<div style="position:absolute;left:122.4px;top:285.3px;width:88.4px;height:22.4px;background:#fff"></div>
<div class="t" style="left:128.45px;top:291.80px;font-size:12.4px;color:#262626;">Welding zone</div>
<div class="t" style="left:275.00px;top:286.00px;width:100px;height:12px;line-height:12px;text-align:center;font-size:9px;transform:rotate(-90deg);color:#111;-webkit-text-stroke:0">Welding time</div>
<div class="t" style="left:284.00px;top:286.00px;width:100px;height:12px;line-height:12px;text-align:center;font-size:9px;transform:rotate(-90deg);color:#111;-webkit-text-stroke:0">1 second</div>
</div>
</body></html>
